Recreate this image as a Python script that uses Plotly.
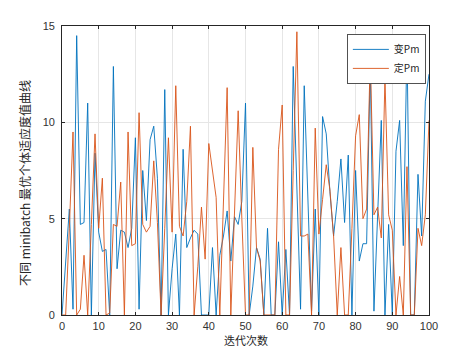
import plotly.graph_objects as go

iterations = list(range(0, 101))

var_pm = [0, 2.7, 5.5, 0.3, 14.5, 4.7, 4.8, 11.0, 0, 8.4,
          4.3, 3.3, 3.4, 0, 12.9, 2.4, 4.4, 4.3, 3.5, 4.5,
          9.2, 0.3, 7.5, 4.9, 9.1, 9.8, 7.1, 0, 11.7, 0,
          2.4, 4.2, 0, 8.6, 3.5, 4.0, 4.4, 4.2, 0, 0,
          0, 3.5, 0, 3.1, 4.1, 5.4, 2.8, 5.1, 4.7, 5.9,
          11.0, 0, 1.5, 3.5, 2.9, 0, 4.5, 0, 0, 3.8,
          0, 3.4, 0, 12.9, 6.5, 0.3, 11.9, 6.0, 0.2, 5.5,
          0, 10.3, 9.4, 6.4, 4.1, 5.9, 8.1, 4.8, 8.3, 0,
          7.5, 2.8, 3.7, 3.7, 13.0, 0.2, 5.4, 10.1, 0, 4.7,
          0, 8.5, 10.1, 3.6, 14.0, 0, 0, 7.3, 4.1, 11.1,
          12.5]

fix_pm = [0, 0, 4.5, 9.5, 0, 0.3, 3.1, 0, 4.7, 9.4,
          4.5, 7.1, 0, 0.1, 4.7, 4.6, 6.9, 0, 9.5, 3.6,
          3.7, 10.5, 4.7, 4.3, 4.6, 8.0, 4.8, 0, 4.5, 9.2,
          4.3, 11.9, 4.6, 4.1, 5.9, 9.8, 0, 2.5, 5.6, 2.9,
          8.9, 7.5, 6.1, 0, 5.5, 11.8, 0, 5.0, 10.6, 5.0,
          0, 0, 8.7, 3.5, 2.8, 0, 0, 0, 0, 8.6,
          10.9, 0, 0, 7.5, 14.7, 4.1, 4.1, 4.2, 0, 9.7,
          4.2, 6.0, 7.8, 6.5, 4.1, 0, 3.5, 0, 0, 4.5,
          9.3, 10.4, 5.0, 5.5, 13.5, 5.2, 5.6, 4.0, 12.3, 5.2,
          4.4, 0, 2.0, 0, 7.7, 0, 0, 4.5, 3.6, 5.2,
          10.1]

x_ticks = [0, 10, 20, 30, 40, 50, 60, 70, 80, 90, 100]
y_ticks = [0, 5, 10, 15]
x_title = "迭代次数"
y_title = "不同 minibatch 最优个体适应度值曲线"

fig = go.Figure()
fig.add_trace(go.Scatter(x=iterations, y=var_pm, mode="lines", name="变Pm",
                         line=dict(color="#0072BD", width=0.9)))
fig.add_trace(go.Scatter(x=iterations, y=fix_pm, mode="lines", name="定Pm",
                         line=dict(color="#D95319", width=0.9)))

axis_common = dict(showline=True, linecolor="#262626", linewidth=0.8, mirror="ticks",
                   ticks="inside", ticklen=3, tickcolor="#262626",
                   showgrid=True, gridcolor="#e6e6e6", gridwidth=1, zeroline=False,
                   automargin=False,
                   tickfont=dict(family="Liberation Sans, Arial", size=11, color="#333333"))

fig.update_layout(
    width=458, height=339,
    margin=dict(l=54, r=37, t=18, b=32),
    paper_bgcolor="white", plot_bgcolor="white",
    font=dict(family="Noto Sans CJK SC", color="#262626"),
    showlegend=True,
    legend=dict(x=0.992, y=0.972, xanchor="right", yanchor="top",
                bgcolor="white", bordercolor="#262626", borderwidth=0.8,
                font=dict(family="Noto Sans CJK SC", size=10, color="#262626"),
                tracegroupgap=0, itemwidth=36),
    annotations=[
        dict(text=x_title, xref="paper", yref="paper", x=0.5, y=0,
             xanchor="center", yanchor="middle", yshift=-25, showarrow=False,
             font=dict(family="Noto Sans CJK SC", size=11, color="#262626")),
        dict(text=y_title, xref="paper", yref="paper", x=0, y=0.457,
             xanchor="center", yanchor="middle", xshift=-37, textangle=-90,
             showarrow=False, font=dict(family="Noto Sans CJK SC", size=12, color="#262626")),
    ],
)
fig.update_xaxes(range=[0, 100], tickvals=x_ticks, ticklabelstandoff=1, **axis_common)
fig.update_yaxes(range=[0, 15], tickvals=y_ticks, ticklabelstandoff=4, **axis_common)

fig.write_html("out.html")
